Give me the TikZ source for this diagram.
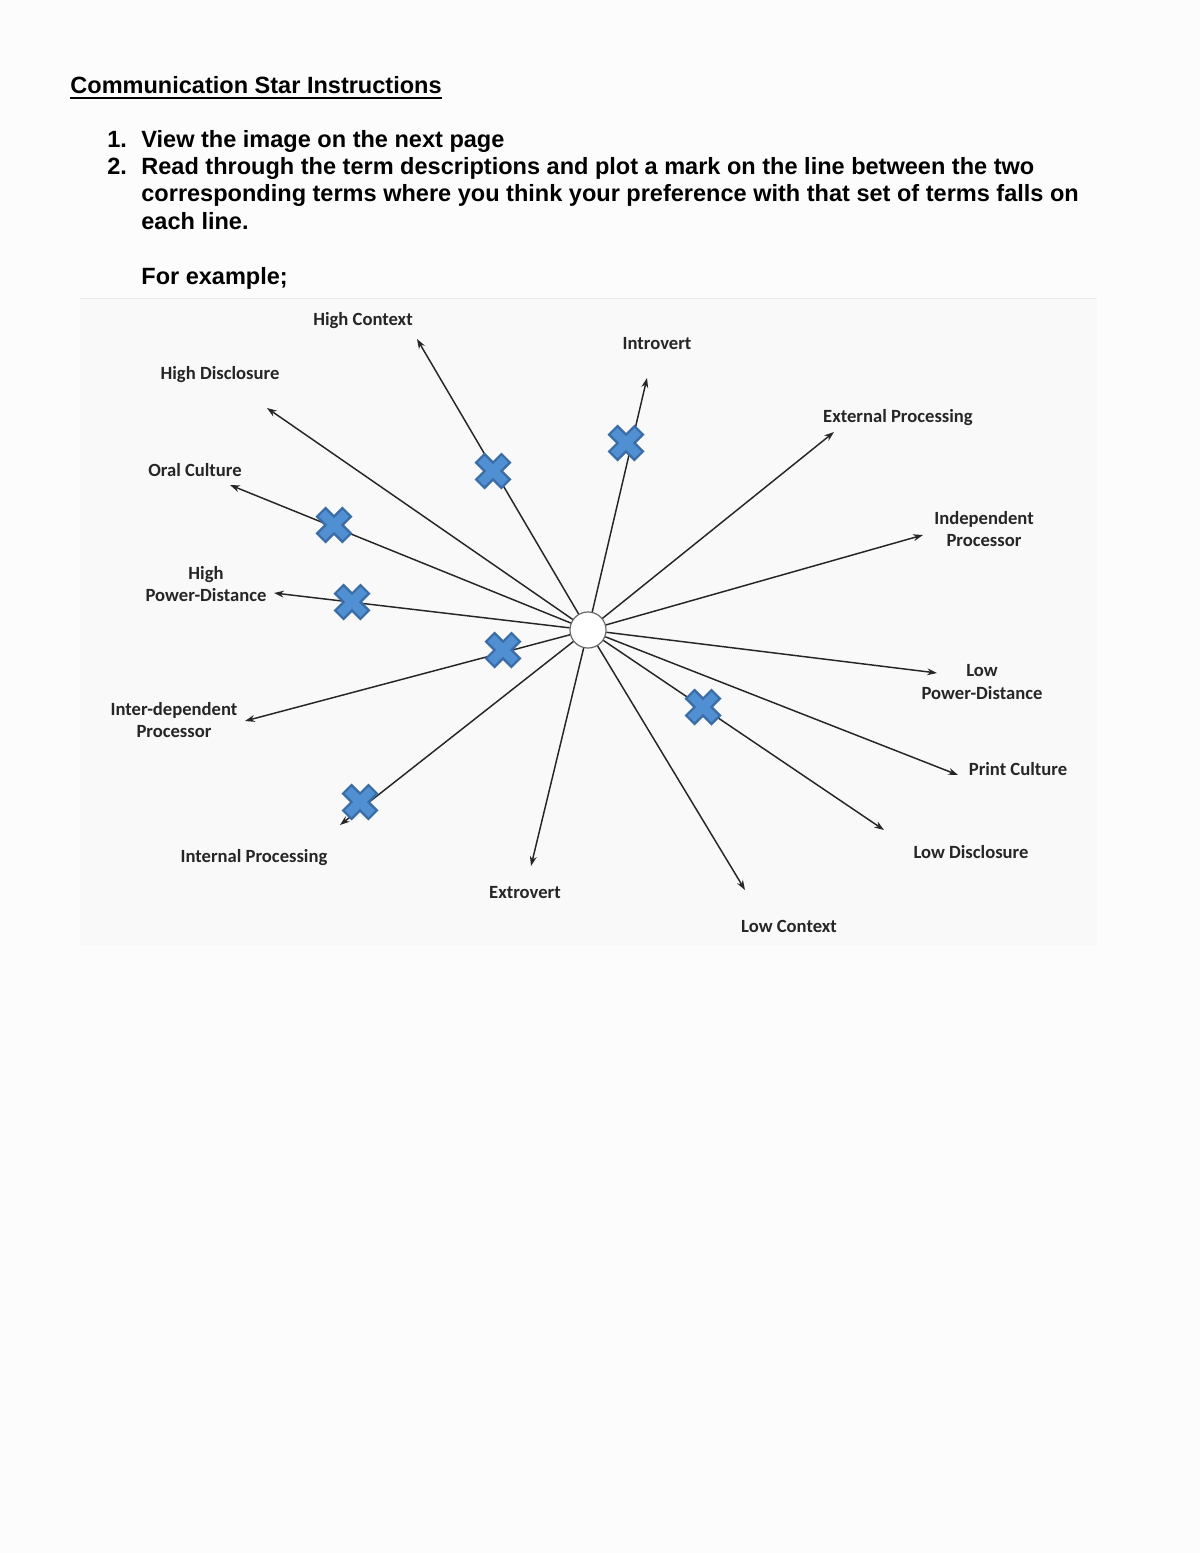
\documentclass[tikz,border=0pt]{standalone}
\usepackage{fontspec}
\setmainfont{Liberation Sans}
\newfontfamily\lblfont{Carlito}
\usetikzlibrary{arrows.meta}
\definecolor{xfill}{HTML}{4F8FD2}
\definecolor{xedge}{HTML}{3A6DA6}
\definecolor{lbl}{HTML}{262626}
\begin{document}
\begin{tikzpicture}[x=0.51pt,y=-0.51pt,
  instr/.style={anchor=base west,inner sep=0pt,font=\bfseries\fontsize{12}{14}\selectfont},
  term/.style={align=center,inner sep=0pt,text=lbl,font=\lblfont\bfseries\fontsize{9.5}{11.7}\selectfont},
  ray/.style={draw=black!85,line width=0.75pt,-{Stealth[length=5pt,width=3.5pt]}},
  crossmark/.pic={
    \draw[fill=xfill,draw=xedge,line width=1.1pt,rotate=45]
      (6,18)--(6,6)--(18,6)--(18,-6)--(6,-6)--(6,-18)--(-6,-18)--(-6,-6)--(-18,-6)--(-18,6)--(-6,6)--(-6,18)--cycle;
  }]
\useasboundingbox (0,0) rectangle (1200,1553);
\fill[white!99!black] (0,0) rectangle (1200,1553);
\fill[white!97.5!black] (80,298) rectangle (1097,945);
\draw[white!92!black,line width=0.4pt] (80,298) -- (1097,298);

% instructions
\node[instr] (title) at (70,94) {Communication Star Instructions};
\draw[line width=0.9pt] (70,98) -- (442,98);
\node[instr] (n1) at (107,148) {1.};
\node[instr] (t1) at (141,148) {View the image on the next page};
\node[instr] (n2) at (107,175) {2.};
\node[instr] (t2a) at (141,175) {Read through the term descriptions and plot a mark on the line between the two};
\node[instr] (t2b) at (141,202) {corresponding terms where you think your preference with that set of terms falls on};
\node[instr] (t2c) at (141,230) {each line.};
\node[instr] (ex) at (141,284) {For example;};

% centre
\node[circle,draw=black!60,fill=white,line width=0.6pt,minimum size=18.4pt,inner sep=0pt] (c) at (588,630) {};

% arrow ends
\coordinate (eHC) at (417,339);
\coordinate (eIN) at (647,378);
\coordinate (eEP) at (834,432);
\coordinate (eIP) at (923,535);
\coordinate (eLPD) at (937,673);
\coordinate (ePC) at (958,775);
\coordinate (eLD) at (884,830);
\coordinate (eLC) at (745,890);
\coordinate (eEX) at (531,866);
\coordinate (eINP) at (340,825);
\coordinate (eIDP) at (245,721);
\coordinate (eHPD) at (274,593);
\coordinate (eOC) at (230,485);
\coordinate (eHD) at (267,408);

\foreach \e in {eHC,eIN,eEP,eIP,eLPD,ePC,eLD,eLC,eEX,eINP,eIDP,eHPD,eOC,eHD}
  \draw[ray] (c) -- (\e);

% labels
\node[term] (lHC) at (363,321) {High Context};
\node[term] (lIN) at (657,344) {Introvert};
\node[term] (lHD) at (220,375) {High Disclosure};
\node[term] (lEP) at (898,418) {External Processing};
\node[term] (lOC) at (195,470) {Oral Culture};
\node[term] (lIP) at (984,529) {Independent\\Processor};
\node[term] (lHPD) at (206,584) {High\\Power-Distance};
\node[term] (lLPD) at (982,682) {Low\\Power-Distance};
\node[term] (lIDP) at (174,720) {Inter-dependent\\Processor};
\node[term] (lPC) at (1018,769) {Print Culture};
\node[term] (lLD) at (971,852) {Low Disclosure};
\node[term] (lINP) at (254,858) {Internal Processing};
\node[term] (lEX) at (525,893) {Extrovert};
\node[term] (lLC) at (789,926) {Low Context};

% example marks
\pic at (493,471) {crossmark};
\pic at (626,443) {crossmark};
\pic at (334,525) {crossmark};
\pic at (352,602) {crossmark};
\pic at (503,650) {crossmark};
\pic at (703,707) {crossmark};
\pic at (360,802) {crossmark};
\end{tikzpicture}
\end{document}
